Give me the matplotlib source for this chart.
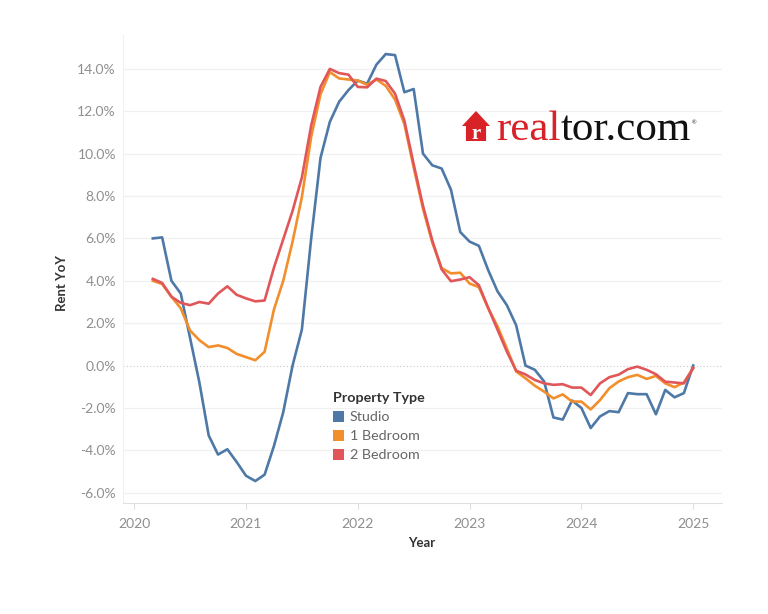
import numpy as np
import matplotlib
matplotlib.use("Agg")
import matplotlib.pyplot as plt
from matplotlib.patches import Patch, Polygon

plt.rcParams['font.family'] = ['Lato', 'DejaVu Sans']

# monthly data, Mar 2020 .. Jan 2025
start_year = 2020
start_month = 3
studio = [6.0, 6.05, 4.0, 3.4, 1.3, -0.8, -3.3, -4.2, -3.95, -4.55,
          -5.2, -5.45, -5.15, -3.8, -2.2, 0.0, 1.7, 6.0, 9.8, 11.5, 12.45, 13.0,
          13.45, 13.3, 14.2, 14.7, 14.65, 12.9, 13.05, 10.0, 9.45, 9.3, 8.3, 6.3,
          5.85, 5.65, 4.5, 3.5, 2.85, 1.9, 0.0, -0.2, -0.75, -2.45, -2.55, -1.65,
          -2.0, -2.95, -2.4, -2.15, -2.2, -1.3, -1.35, -1.35, -2.3, -1.15, -1.5, -1.3,
          0.0]
one_bed = [4.0, 3.85, 3.25, 2.7, 1.65, 1.2, 0.87, 0.95, 0.83, 0.55,
           0.4, 0.25, 0.65, 2.64, 4.0, 5.85, 7.95, 10.8, 12.8, 13.85, 13.55, 13.5,
           13.45, 13.25, 13.5, 13.2, 12.55, 11.4, 9.35, 7.4, 5.8, 4.6, 4.35, 4.38,
           3.87, 3.7, 2.7, 1.85, 0.8, -0.28, -0.6, -0.95, -1.23, -1.55, -1.36, -1.7,
           -1.7, -2.07, -1.63, -1.07, -0.75, -0.55, -0.44, -0.63, -0.49, -0.84, -1.02, -0.8,
           -0.12]
two_bed = [4.09, 3.9, 3.25, 2.96, 2.85, 3.0, 2.92, 3.4, 3.74, 3.34,
           3.17, 3.03, 3.07, 4.62, 5.96, 7.3, 8.88, 11.33, 13.15, 14.0, 13.8, 13.73,
           13.15, 13.13, 13.54, 13.43, 12.83, 11.56, 9.5, 7.54, 5.9, 4.54, 3.98, 4.06,
           4.17, 3.79, 2.72, 1.69, 0.66, -0.24, -0.42, -0.68, -0.84, -0.91, -0.88, -1.04,
           -1.04, -1.39, -0.84, -0.55, -0.43, -0.17, -0.05, -0.2, -0.41, -0.76, -0.8, -0.84,
           -0.12]
series_names = ['Studio', '1 Bedroom', '2 Bedroom']
colors = ['#4e79a7', '#f28e2b', '#e15759']
year_ticks = [2020, 2021, 2022, 2023, 2024, 2025]
pct_ticks = [-6, -4, -2, 0, 2, 4, 6, 8, 10, 12, 14]

n = len(studio)
x = start_year + (start_month - 1 + np.arange(n)) / 12.0

fig = plt.figure(figsize=(7.68, 6.14), dpi=100)
ax = fig.add_axes([0.160, 0.181, 0.780, 0.762])

for vals, name, c in zip([studio, one_bed, two_bed], series_names, colors):
    ax.plot(x, vals, color=c, linewidth=1.9, label=name, solid_joinstyle='round')

ax.set_xlim(2019.899, 2025.257)
ax.set_ylim(-6.48, 15.6)
ax.set_yticks(pct_ticks)
ax.set_yticklabels([f'{v:.1f}%' for v in pct_ticks])
ax.set_xticks(year_ticks)
ax.set_xticklabels([str(y) for y in year_ticks])

# grid
for v in pct_ticks:
    if v == 0:
        ax.axhline(v, color='#c8c8c8', linewidth=0.8, linestyle=(0, (1, 2)), zorder=0)
    else:
        ax.axhline(v, color='#f0f0f0', linewidth=0.9, zorder=0)

for s in ['top', 'right']:
    ax.spines[s].set_visible(False)
ax.spines['left'].set_color('#f0f0f0')
ax.spines['bottom'].set_color('#e0e0e0')
ax.spines['bottom'].set_linestyle((0, (1, 1)))
ax.tick_params(axis='y', length=0, labelsize=10, labelcolor='#8f8f8f', pad=5)
ax.tick_params(axis='x', length=4, color='#e0e0e0', labelsize=10, labelcolor='#8f8f8f', pad=7)

fig.text(62 / 768, 1 - 283 / 614, 'Rent YoY', rotation=90, ha='center', va='center',
         fontsize=9.5, color='#333333', fontweight='bold')
fig.text(422 / 768, 1 - 543 / 614, 'Year', ha='center', va='center',
         fontsize=9.5, color='#333333', fontweight='bold')

handles = [Patch(facecolor=c, edgecolor='none') for c in colors]
leg = ax.legend(handles, series_names, title='Property Type', loc='upper left',
                bbox_to_anchor=(0.35, 0.236), frameon=False, fontsize=10.3,
                title_fontproperties={'weight': 'bold', 'size': 10.3},
                handlelength=0.8, handleheight=0.8, handletextpad=0.4,
                labelspacing=0.45, borderaxespad=0, borderpad=0)
leg._legend_box.align = 'left'
for t in leg.get_texts():
    t.set_color('#666666')
leg.get_title().set_color('#333333')

# realtor.com logo
red = '#d92228'
hx, hy = 462 / 768, 1 - 141 / 614
w, h = 28 / 768, 30 / 614
house = Polygon([[hx + 0.14 * w, hy], [hx + 0.14 * w, hy + 0.5 * h], [hx, hy + 0.5 * h],
                 [hx + 0.5 * w, hy + h], [hx + w, hy + 0.5 * h], [hx + 0.86 * w, hy + 0.5 * h],
                 [hx + 0.86 * w, hy]], closed=True, transform=fig.transFigure,
                facecolor=red, edgecolor='none')
fig.patches.append(house)
fig.text(hx + 0.5 * w, hy + 0.08 * h, 'r', color='white', fontsize=15, fontweight='bold',
         family='Liberation Serif', ha='center', va='baseline')
t1 = fig.text(496 / 768, 1 - 140 / 614, 'real', color=red, fontsize=31,
              family='Liberation Serif', va='baseline')
fig.canvas.draw()
bb = t1.get_window_extent()
t2 = fig.text(bb.x1 / fig.bbox.width, 1 - 140 / 614, 'tor.com', color='#111111', fontsize=31,
              family='Liberation Serif', va='baseline')
fig.canvas.draw()
bb2 = t2.get_window_extent()
fig.text(bb2.x1 / fig.bbox.width + 0.002, 1 - 124 / 614, '®', color='#333333', fontsize=4,
         va='baseline')

fig.savefig('out.png', dpi=100, facecolor='white')
